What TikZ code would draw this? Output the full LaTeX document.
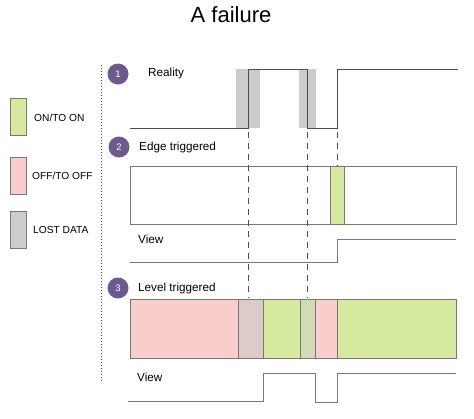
\documentclass[tikz,border=0pt]{standalone}
\usepackage{fontspec}
\setmainfont{Liberation Sans}
\definecolor{onc}{HTML}{D5E99F}
\definecolor{offc}{HTML}{F8CDCC}
\definecolor{lostc}{HTML}{CCCCCC}
\definecolor{lostoff}{HTML}{DCCBC6}
\definecolor{loston}{HTML}{D2DCB4}
\definecolor{purp}{HTML}{6B5A8E}
\definecolor{edgec}{HTML}{777777}
\definecolor{sigc}{HTML}{4D4D4D}
\begin{document}
\begin{tikzpicture}[x=1pt,y=-1pt,
  badge/.style={circle,fill=purp,minimum size=21pt,inner sep=0pt,text=white,font=\fontsize{9.5}{10}\selectfont},
  lbl/.style={anchor=west,inner sep=0pt,font=\fontsize{11.7}{13}\selectfont},
  legtxt/.style={anchor=west,inner sep=0pt,font=\fontsize{10.2}{12}\selectfont},
  legbox/.style={draw=edgec,line width=0.8pt,minimum width=16pt,minimum height=37pt,inner sep=0pt},
  seg/.style={draw=edgec,line width=0.8pt},
  sig/.style={draw=sigc,line width=1pt},
  guide/.style={draw=sigc,line width=0.8pt,dash pattern=on 6pt off 5pt},
  lost/.style={fill=lostc}
]
\useasboundingbox (0,0) rectangle (474,418);
% title
\node[font=\fontsize{22}{26}\selectfont] (title) at (231,15) {A failure};
% legend
\node[legbox,fill=onc] (lon) at (18,117) {};
\node[legtxt] (lontxt) at (34,118) {ON/TO ON};
\node[legbox,fill=offc] (loff) at (18,176) {};
\node[legtxt] (lofftxt) at (32,176) {OFF/TO OFF};
\node[legbox,fill=lostc] (llost) at (18,230) {};
\node[legtxt] (llosttxt) at (33,230) {LOST DATA};
% dotted separator
\coordinate (dtop) at (101,65);
\coordinate (dbot) at (101,382);
\draw[line width=1pt,dotted,sigc] (dtop) -- (dbot);
% badges and labels
\node[badge] (b1) at (118,74) {1};
\node[lbl] (l1) at (148,73) {Reality};
\node[badge] (b2) at (119,147) {2};
\node[lbl] (l2) at (139,147) {Edge triggered};
\node[badge] (b3) at (118,288) {3};
\node[lbl] (l3) at (138,288) {Level triggered};
\node[lbl] (v1) at (138,239) {View};
\node[lbl] (v2) at (137,377) {View};
% reality lost data shading
\fill[lost] (236,69) rectangle (260,128);
\fill[lost] (299,69) rectangle (316,128);
% reality signal
\draw[sig] (130,128) -- (248,128) -- (248,69) -- (307,69) -- (307,128) -- (337,128) -- (337,69) -- (458,69);
% edge triggered box
\fill[white] (130,166) rectangle (456,224);
\draw[seg,fill=onc] (330,166) rectangle (344,224);
\draw[seg] (130,166) rectangle (456,224);
% guide lines
\coordinate (g1t) at (248,132);
\coordinate (g1b) at (248,298);
\coordinate (g2t) at (307,132);
\coordinate (g2b) at (307,298);
\coordinate (g3t) at (337,132);
\coordinate (g3b) at (337,166);
\draw[guide] (g1t) -- (g1b);
\draw[guide] (g2t) -- (g2b);
\draw[guide] (g3t) -- (g3b);
% view 1
\draw[sig,line width=0.9pt,draw=edgec] (130,262) -- (337,262) -- (337,239) -- (456,239);
% level triggered box
\fill[white] (130,299) rectangle (456,358);
\draw[seg,fill=offc] (130,299) rectangle (238,358);
\draw[seg,fill=lostoff] (238,299) rectangle (263,358);
\draw[seg,fill=onc] (263,299) rectangle (300,358);
\draw[seg,fill=loston] (300,299) rectangle (315,358);
\draw[seg,fill=offc] (315,299) rectangle (337,358);
\draw[seg,fill=onc] (337,299) rectangle (456,358);
\draw[seg] (130,299) rectangle (456,358);
% view 2
\draw[sig,line width=0.9pt,draw=edgec] (128,401) -- (263,401) -- (263,373) -- (315,373) -- (315,402) -- (337,402) -- (337,373) -- (456,373);
\end{tikzpicture}
\end{document}
